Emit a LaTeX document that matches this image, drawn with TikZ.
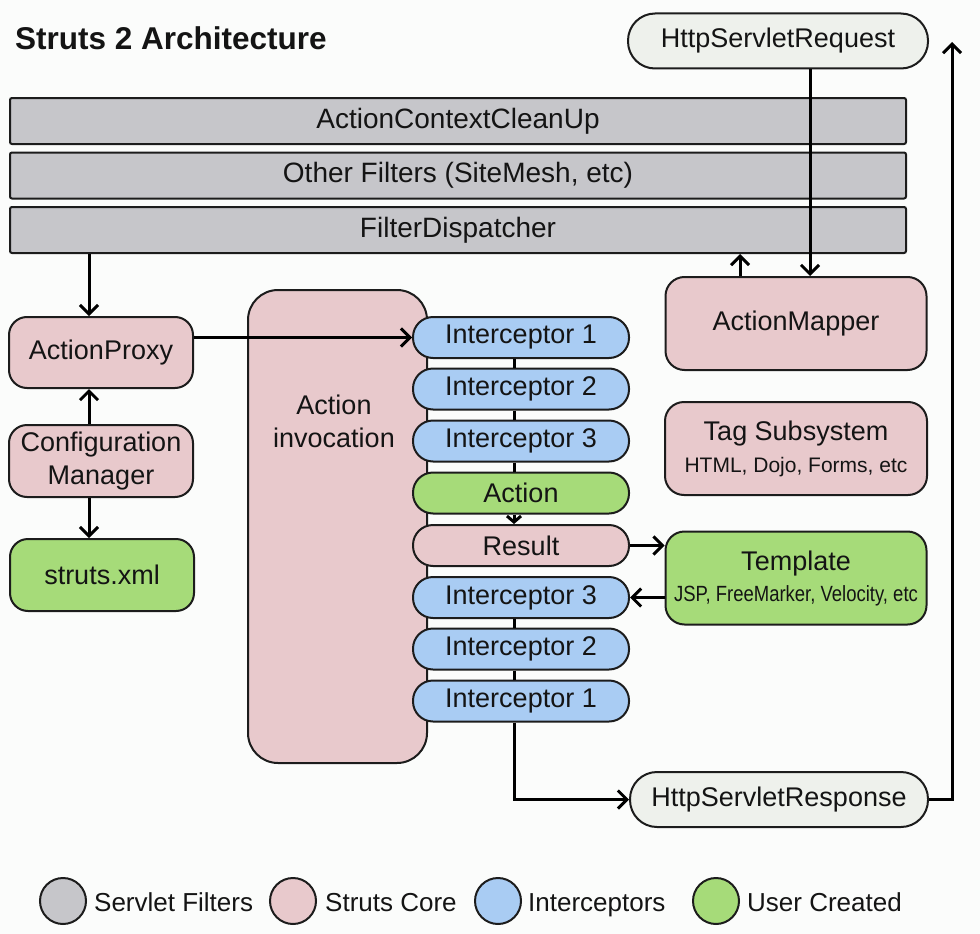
\documentclass[tikz,border=0pt]{standalone}
\usepackage{fontspec}
\setmainfont{Liberation Sans}
\newfontfamily\narrowfont[FakeStretch=0.84]{Liberation Sans}
\usetikzlibrary{arrows.meta}
\definecolor{filtergray}{HTML}{C6C6CA}
\definecolor{corepink}{HTML}{E8C9CC}
\definecolor{intblue}{HTML}{A9CCF3}
\definecolor{usergreen}{HTML}{A6DB79}
\definecolor{httpgray}{HTML}{EEF1EC}
\definecolor{edgecol}{HTML}{1C1C1C}
\definecolor{bgcol}{HTML}{FBFCFB}
\begin{document}
\begin{tikzpicture}[x=1pt,y=-1pt,
  every node/.style={text=black!92, font=\fontsize{27}{33}\selectfont, inner sep=0pt, align=center},
  bar/.style={draw=edgecol, line width=2pt, fill=filtergray, rounded corners=2pt, minimum width=896pt, minimum height=46pt, font=\fontsize{28}{33}\selectfont},
  corebox/.style={draw=edgecol, line width=2pt, fill=corepink, rounded corners=19pt},
  userbox/.style={draw=edgecol, line width=2pt, fill=usergreen, rounded corners=19pt},
  httpbox/.style={draw=edgecol, line width=2pt, fill=httpgray, rounded corners=27pt, minimum height=55pt},
  pill/.style={draw=edgecol, line width=2pt, rounded corners=20pt, minimum width=216pt, minimum height=41pt},
  intpill/.style={pill, fill=intblue},
  legdot/.style={circle, draw=edgecol, line width=2pt, minimum size=46pt},
  legtext/.style={anchor=base west, font=\fontsize{26}{30}\selectfont},
  conn/.style={draw=black, line width=3pt},
  arr/.style={conn, -{Straight Barb[length=9pt,width=18pt]}},
]
\useasboundingbox[fill=bgcol] (0,0) rectangle (980,934);

% title
\node[anchor=base west, font=\fontsize{31.5}{36}\selectfont\bfseries] (title) at (15,50) {Struts 2 Architecture};

% servlet filters
\node[bar] (acc) at (458,121) {ActionContextCleanUp};
\node[bar] (other) at (458,175.5) {Other Filters (SiteMesh, etc)};
\node[bar] (fd) at (458,230) {FilterDispatcher};

% http request / response
\node[httpbox, minimum width=300pt] (req) at (778,41) {HttpServletRequest};
\node[httpbox, minimum width=298pt] (resp) at (779,799.5) {HttpServletResponse};

% right column
\node[corebox, minimum width=261pt, minimum height=93pt] (am) at (796,323.5) {ActionMapper};
\node[corebox, minimum width=262pt, minimum height=93pt] (tag) at (796,448.5)
  {Tag Subsystem\\[-1pt]{\fontsize{21}{25}\selectfont HTML, Dojo, Forms, etc}};
\node[userbox, minimum width=261pt, minimum height=93pt] (tpl) at (796,578)
  {Template\\[-2pt]{\narrowfont\fontsize{22}{25}\selectfont JSP, FreeMarker, Velocity, etc}};

% left column
\node[corebox, rounded corners=18pt, minimum width=184pt, minimum height=71pt] (ap) at (101,352.5) {ActionProxy};
\node[corebox, rounded corners=18pt, minimum width=184pt, minimum height=72pt] (cm) at (101,461) {Configuration\\Manager};
\node[userbox, rounded corners=18pt, minimum width=184pt, minimum height=72pt] (sx) at (102,575) {struts.xml};

% action invocation
\node[corebox, rounded corners=30pt, minimum width=179pt, minimum height=473pt] (ai) at (337.5,526.5) {};
\node (aitext) at (334,421) {Action\\invocation};

% interceptor stack
\coordinate (colx) at (514,0);
\node[intpill] (i1) at (521,337.5) {Interceptor 1};
\node[intpill] (i2) at (521,389) {Interceptor 2};
\node[intpill] (i3) at (521,441) {Interceptor 3};
\node[pill, fill=usergreen] (act) at (521,493) {Action};
\node[pill, fill=corepink] (res) at (521,545.5) {Result};
\node[intpill] (j3) at (521,597.5) {Interceptor 3};
\node[intpill] (j2) at (521,649) {Interceptor 2};
\node[intpill] (j1) at (521,701) {Interceptor 1};

% stack links
\draw[conn] (i1.south -| colx) -- (i2.north -| colx);
\draw[conn] (i2.south -| colx) -- (i3.north -| colx);
\draw[conn] (i3.south -| colx) -- (act.north -| colx);
\draw[conn, -{Straight Barb[length=6pt,width=14pt]}] (act.south -| colx) -- (res.north -| colx);
\draw[conn] (j3.south -| colx) -- (j2.north -| colx);
\draw[conn] (j2.south -| colx) -- (j1.north -| colx);

% connectors
\draw[arr] ([xshift=32pt]req.south) -- ([xshift=32pt]req.south |- am.north);
\draw[arr] ([xshift=-56pt]am.north) -- ([xshift=-56pt]am.north |- fd.south);
\draw[arr] ([xshift=-12pt]ap.north |- fd.south) -- ([xshift=-12pt]ap.north);
\draw[arr] ([xshift=-12pt]cm.north) -- ([xshift=-12pt]ap.south);
\draw[arr] ([xshift=-12pt]cm.south) -- ([xshift=-12pt]cm.south |- sx.north);
\draw[arr] (ap.east |- i1.west) -- (i1.west);
\draw[arr] (res.east) -- (res.east -| tpl.west);
\draw[arr] (tpl.west |- j3.east) -- (j3.east);
\draw[arr] (j1.south -| colx) |- (resp.west);
\coordinate (topend) at (952,42);
\draw[arr] (resp.east) -| (topend);

% legend
\node[legdot, fill=filtergray] (l1) at (63,901) {};
\node[legtext] (t1) at (94,911) {Servlet Filters};
\node[legdot, fill=corepink] (l2) at (293,901) {};
\node[legtext] (t2) at (325,911) {Struts Core};
\node[legdot, fill=intblue] (l3) at (498,901) {};
\node[legtext] (t3) at (528,911) {Interceptors};
\node[legdot, fill=usergreen] (l4) at (716,901) {};
\node[legtext] (t4) at (747,911) {User Created};
\end{tikzpicture}
\end{document}
